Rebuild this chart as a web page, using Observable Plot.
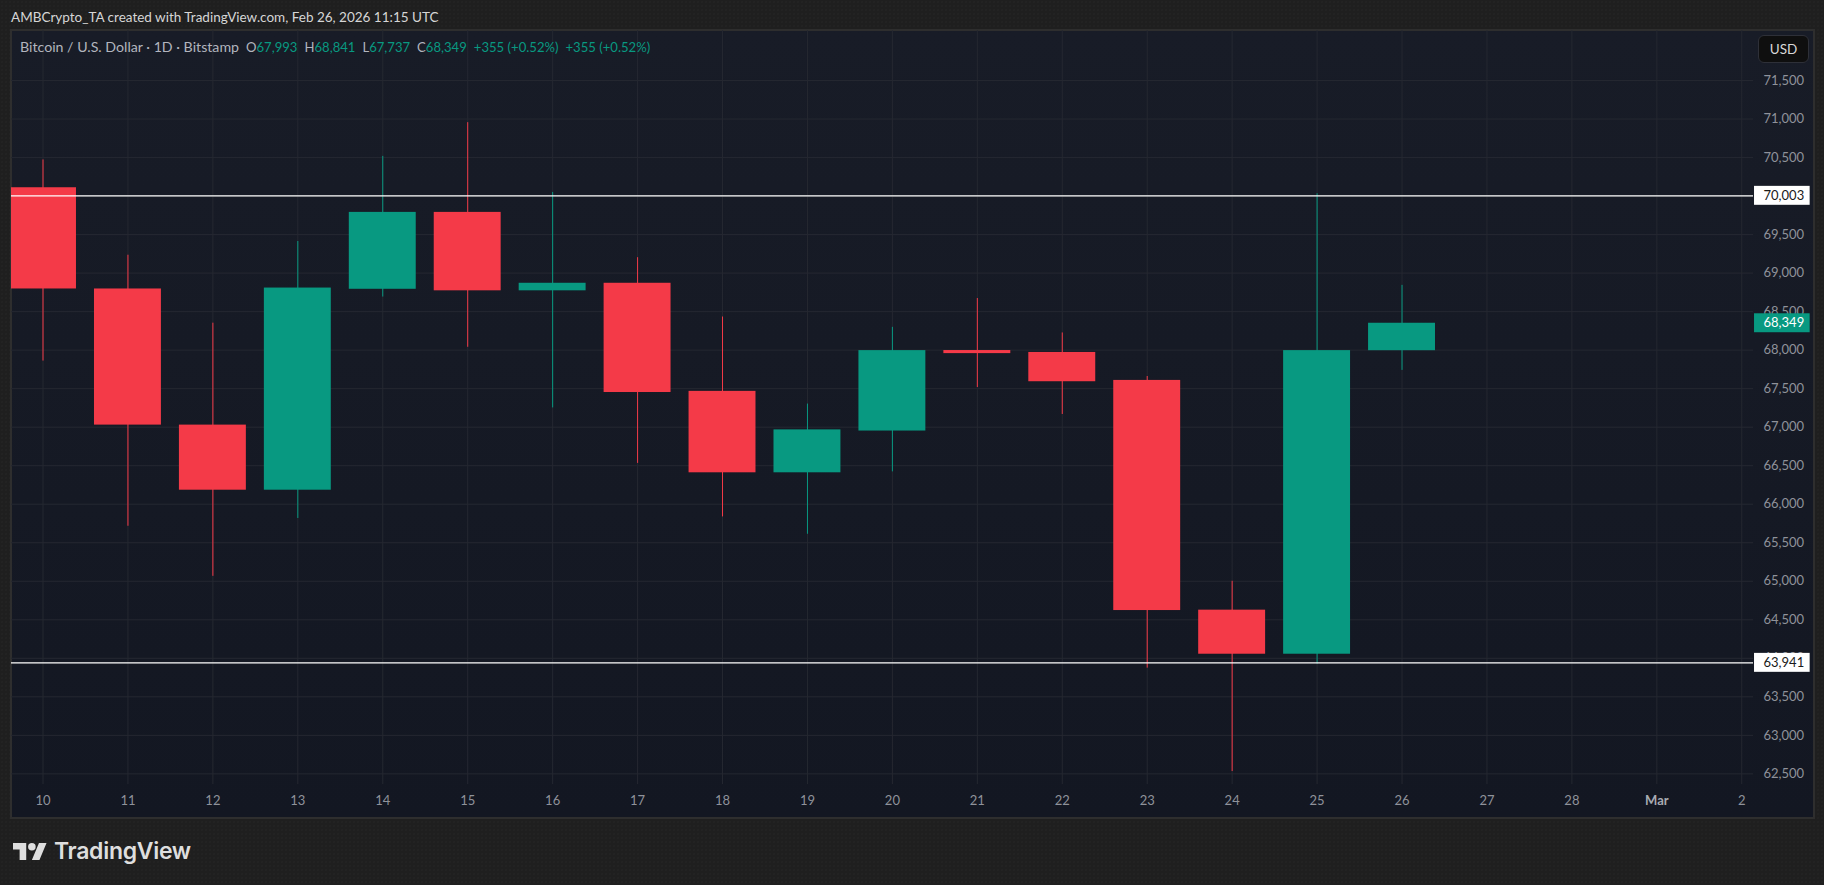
<!DOCTYPE html>
<html><head><meta charset="utf-8">
<script src="https://cdn.jsdelivr.net/npm/d3@7"></script>
<script src="https://cdn.jsdelivr.net/npm/@observablehq/plot@0.6"></script>
<style>
html,body{margin:0;padding:0;width:1824px;height:885px;overflow:hidden;background:#1f1f1f;}
body{position:relative;font-family:Lato,"Noto Sans",sans-serif;background-image:radial-gradient(#262626 .6px,transparent .8px);background-size:4px 4px;}
#panel{position:absolute;left:10px;top:29px;width:1801px;height:786px;border:2px solid #2e2e2e;background:linear-gradient(#181c27,#131722);}
#chart{position:absolute;left:0;top:0;}
#chart svg{display:block;}
.t{position:absolute;white-space:nowrap;}
#attrib{left:11px;top:8px;font-size:13.5px;line-height:18px;color:#d6d6d6;}
#legend{left:20px;top:38px;font-size:13.1px;line-height:18px;color:#b2b5be;}
#legend b{font-weight:400;color:#089981;}
#legend span{margin-right:7px;}
#legend span.name{font-size:14.2px;}
#usd{left:1758px;top:35px;width:49px;height:26px;line-height:26px;text-align:center;background:#0f0f0f;border:1px solid #2e3038;border-radius:6px;color:#d8d8d8;font-size:13.5px;}
#brand{left:13px;top:839px;display:flex;align-items:center;gap:7px;color:#dedede;font-family:Inter,Lato,sans-serif;font-size:23px;font-weight:600;line-height:24px;letter-spacing:-.3px;}
</style></head>
<body>
<div id="panel"></div>
<div id="chart"></div>
<div class="t" id="attrib">AMBCrypto_TA created with TradingView.com, Feb 26, 2026 11:15 UTC</div>
<div class="t" id="legend"><span class="name">Bitcoin / U.S. Dollar · 1D · Bitstamp</span><span>O<b>67,993</b></span><span>H<b>68,841</b></span><span>L<b>67,737</b></span><span>C<b>68,349</b></span><span><b>+355 (+0.52%)</b></span><span><b>+355 (+0.52%)</b></span></div>
<div class="t" id="usd">USD</div>
<div class="t" id="brand"><svg width="34" height="17" viewBox="0 4 36 18"><path fill="#dedede" d="M14 22H7V11H0V4h14v18zM28 22h-8l7.5-18h8L28 22z"/><circle fill="#dedede" cx="20" cy="8" r="4"/></svg><span>TradingView</span></div>
<script>
// Daily candles, Feb 10 – Feb 26, 2026 (USD)
const days   = [10,11,12,13,14,15,16,17,18,19,20,21,22,23,24,25,26];
const opens  = [70108,68794,67027,66182,68790,69788,68770,68868,67465,66408,66950,67995,67970,67607,64625,64053,67993];
const closes = [68794,67027,66182,68806,69788,68770,68868,67450,66408,66965,67994,67955,67590,64620,64053,67994,68349];
const highs  = [70469,69232,68350,69410,70515,70953,70047,69200,68430,67300,68296,68670,68223,67658,65000,70030,68841];
const lows   = [67858,65714,65064,65815,68689,68037,67250,66530,65835,65610,66420,67515,67165,63872,62530,63925,67737];

const gridPrices = [62500,63000,63500,64000,64500,65000,65500,66000,66500,67000,67500,68000,68500,69000,69500,70000,70500,71000,71500];
const priceLabels = [62500,63000,63500,64000,64500,65000,65500,66000,66500,67000,67500,68000,68500,69000,69500,70500,71000,71500];
const dayTicks = [10,11,12,13,14,15,16,17,18,19,20,21,22,23,24,25,26,27,28,30];
const dayTickLabels = ["10","11","12","13","14","15","16","17","18","19","20","21","22","23","24","25","26","27","28","2"];
const monthTick = [29];
const monthTickLabel = "Mar";
const levels = [70003,63941];
const lastPrice = [68349];

const GREEN="#089981", RED="#f43a48", GRID="#252831", LABEL="#8f929a";
const day = d => new Date(Date.UTC(2026,1,0)+d*864e5);
const candles = days.map((d,i)=>({d,open:opens[i],close:closes[i],high:highs[i],low:lows[i],dir:closes[i]>=opens[i]?"up":"down"}));
const halfBody = 0.394, domainEnd = 30.138, tagDays = 0.655, tagHalfPrice = 123;

const tag = (values,fill,text) => [
  Plot.rect(values,{x1:()=>day(domainEnd+0.012),x2:()=>day(domainEnd+0.012+tagDays),y1:v=>v-tagHalfPrice,y2:v=>v+tagHalfPrice,fill}),
  Plot.text(values,{x:()=>day(domainEnd+0.012),y:d=>d,text:d=>d3.format(",")(d),textAnchor:"start",dx:9,fill:text,fontSize:13,fontFamily:"Lato"})
];

const chart = Plot.plot({
  width:1824,height:885,marginLeft:11,marginRight:71,marginTop:30,marginBottom:101,
  style:{background:"transparent",fontFamily:"Lato",fontSize:"13px"},
  x:{type:"utc",domain:[day(9.629),day(domainEnd)]},
  y:{domain:[62362,72149]},
  color:{domain:["up","down"],range:[GREEN,RED]},
  marks:[
    Plot.gridX(dayTicks.concat(monthTick).map(day),{stroke:GRID,strokeOpacity:1}),
    Plot.gridY(gridPrices,{stroke:GRID,strokeOpacity:1}),
    Plot.axisY(priceLabels,{anchor:"right",tickSize:0,tickPadding:10,tickFormat:d3.format(","),color:LABEL,fontSize:13,label:null}),
    Plot.axisX(dayTicks.map(day),{anchor:"bottom",tickSize:0,tickPadding:11,tickFormat:(d,i)=>dayTickLabels[i],color:LABEL,fontSize:13,label:null}),
    Plot.axisX(monthTick.map(day),{anchor:"bottom",tickSize:0,tickPadding:11,tickFormat:()=>monthTickLabel,color:"#a8abb2",fontSize:13,fontWeight:700,label:null}),
    Plot.ruleX(candles,{x:d=>day(d.d),y1:"low",y2:"high",stroke:"dir",strokeWidth:1}),
    Plot.rect(candles,{x1:d=>day(d.d-halfBody),x2:d=>day(d.d+halfBody),y1:"open",y2:"close",fill:"dir",clip:true}),
    Plot.ruleY(levels,{stroke:"#ffffff",strokeWidth:1.4}),
    ...tag(levels,"#ffffff","#1a1a1a"),
    ...tag(lastPrice,GREEN,"#ffffff")
  ]
});
document.getElementById("chart").append(chart);
</script>
</body></html>
